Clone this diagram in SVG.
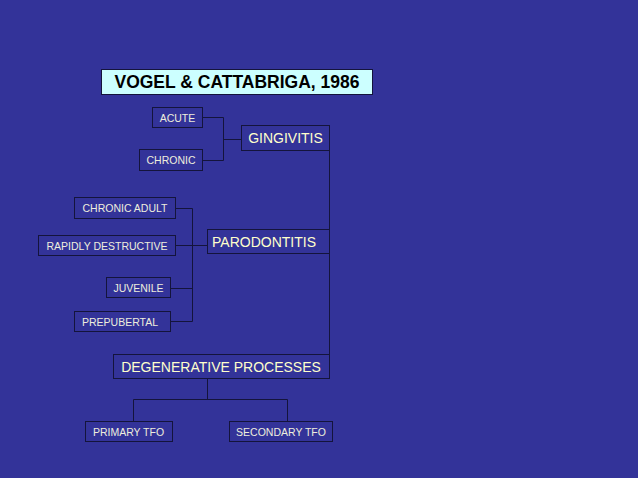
<svg xmlns="http://www.w3.org/2000/svg" width="638" height="478" viewBox="0 0 638 478">
<style>
.box{fill:#333399;stroke:#14143c;stroke-width:1}
.sm{font-family:"Liberation Sans",Arial,sans-serif;font-size:10.5px;fill:#eeeedd;text-anchor:middle}
.lg{font-family:"Liberation Sans",Arial,sans-serif;font-size:14px;fill:#ffffcc;text-anchor:middle}
.ln{fill:none;stroke:#14143c;stroke-width:1}
</style>
<rect width="638" height="478" fill="#333399"/>
<g id="title"><rect x="101.5" y="69.5" width="271" height="25" fill="#ccffff" stroke="#14143c"/><text x="237" y="88" font-family="Liberation Sans,Arial,sans-serif" font-size="17.5" font-weight="bold" fill="#000" text-anchor="middle">VOGEL &amp; CATTABRIGA, 1986</text></g>
<g id="connectors">
<path class="ln" d="M202 117.5H223.5V160.5H202M223.5 139.5H241"/>
<path class="ln" d="M329.5 150V354"/>
<path class="ln" d="M176 208.5H192.5V321.5H170M170 288.5H192.5M176 245.5H207"/>
<path class="ln" d="M207.5 378V399.5M133.5 421V399.5H287.5V421"/>
</g>
<g id="acute"><rect class="box" x="152.5" y="107.5" width="50" height="20"/><text class="sm" x="177.5" y="121.5">ACUTE</text></g>
<g id="chronic"><rect class="box" x="139.5" y="149.5" width="63" height="21"/><text class="sm" x="171" y="164">CHRONIC</text></g>
<g id="gingivitis"><rect class="box" x="241.5" y="125.5" width="88" height="25"/><text class="lg" x="285.5" y="143">GINGIVITIS</text></g>
<g id="chronic-adult"><rect class="box" x="74.5" y="197.5" width="101" height="21"/><text class="sm" x="125" y="212">CHRONIC ADULT</text></g>
<g id="rapidly"><rect class="box" x="38.5" y="235.5" width="137" height="20"/><text class="sm" x="107" y="249.5">RAPIDLY DESTRUCTIVE</text></g>
<g id="juvenile"><rect class="box" x="106.5" y="277.5" width="64" height="20"/><text class="sm" x="138.5" y="291.5">JUVENILE</text></g>
<g id="prepubertal"><rect class="box" x="74.5" y="311.5" width="96" height="20"/><text class="sm" x="120" y="325.5">PREPUBERTAL</text></g>
<g id="parodontitis"><rect class="box" x="207.5" y="229.5" width="122" height="24"/><text class="lg" x="264" y="247">PARODONTITIS</text></g>
<g id="degenerative"><rect class="box" x="113.5" y="354.5" width="216" height="24"/><text class="lg" x="221" y="372">DEGENERATIVE PROCESSES</text></g>
<g id="primary"><rect class="box" x="85.5" y="421.5" width="87" height="20"/><text class="sm" x="128.5" y="435.5">PRIMARY TFO</text></g>
<g id="secondary"><rect class="box" x="229.5" y="421.5" width="103" height="20"/><text class="sm" x="281" y="435.5">SECONDARY TFO</text></g>
</svg>
